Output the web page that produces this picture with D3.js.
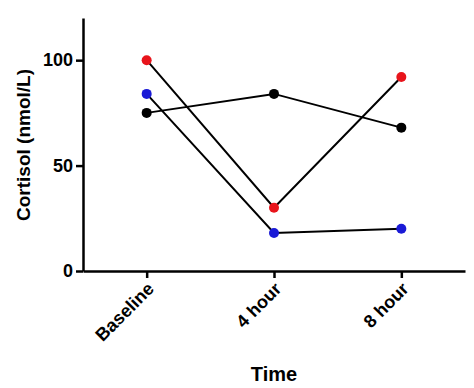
<!DOCTYPE html>
<html>
<head>
<meta charset="utf-8">
<script src="https://cdn.jsdelivr.net/npm/d3@7"></script>
<style>
  body { margin: 0; background: #fff; }
  svg text { font-family: "Liberation Sans", Arial, sans-serif; font-weight: bold; }
</style>
</head>
<body>
<div id="chart"></div>
<script>
const timepoints = ["Baseline", "4 hour", "8 hour"];
const subjectRed = [100, 30, 92];
const subjectBlue = [84, 18, 20];
const subjectBlack = [75, 84, 68];
const yTicks = [0, 50, 100];

const series = [
  { color: "#e8141b", values: subjectRed },
  { color: "#1a1ad6", values: subjectBlue },
  { color: "#000000", values: subjectBlack }
];

const width = 474, height = 388;

const svg = d3.select("#chart")
  .append("svg")
  .attr("width", width)
  .attr("height", height);

const x = d3.scalePoint().domain(timepoints).range([83, 465]).padding(0.5);
const y = d3.scaleLinear().domain([0, 120]).range([271, 18]);

// lines
const line = d3.line()
  .x((d, i) => x(timepoints[i]))
  .y((d) => y(d));

series.forEach((s) => {
  svg.append("path")
    .datum(s.values)
    .attr("d", line)
    .attr("fill", "none")
    .attr("stroke", "#000")
    .attr("stroke-width", 2);
});

// points
series.forEach((s) => {
  svg.selectAll(null)
    .data(s.values)
    .enter()
    .append("circle")
    .attr("cx", (d, i) => x(timepoints[i]))
    .attr("cy", (d) => y(d))
    .attr("r", 5)
    .attr("fill", s.color);
});

// y axis
const yAxis = svg.append("g")
  .attr("transform", "translate(83,0)")
  .call(d3.axisLeft(y).tickValues(yTicks).tickSize(7).tickPadding(3).tickSizeOuter(0));
yAxis.select(".domain").attr("stroke-width", 2.5);
yAxis.selectAll(".tick line").attr("stroke-width", 2.5);
yAxis.selectAll("text").style("font-size", "18px").attr("fill", "#000");

// x axis
const xAxis = svg.append("g")
  .attr("transform", "translate(0,271)")
  .call(d3.axisBottom(x).tickSize(7).tickSizeOuter(0));
xAxis.select(".domain").attr("stroke-width", 2.5);
xAxis.selectAll(".tick line").attr("stroke-width", 2.5);
xAxis.selectAll("text")
  .style("font-size", "18px")
  .attr("fill", "#000")
  .attr("text-anchor", "end")
  .attr("dy", null)
  .attr("y", 0)
  .attr("transform", "translate(8,19) rotate(-45)");

// axis titles
svg.append("text")
  .attr("x", x("4 hour"))
  .attr("y", 381)
  .attr("text-anchor", "middle")
  .style("font-size", "20px")
  .text("Time");

svg.append("text")
  .attr("transform", "translate(30,145) rotate(-90)")
  .attr("text-anchor", "middle")
  .style("font-size", "19px")
  .text("Cortisol (nmol/L)");
</script>
</body>
</html>
